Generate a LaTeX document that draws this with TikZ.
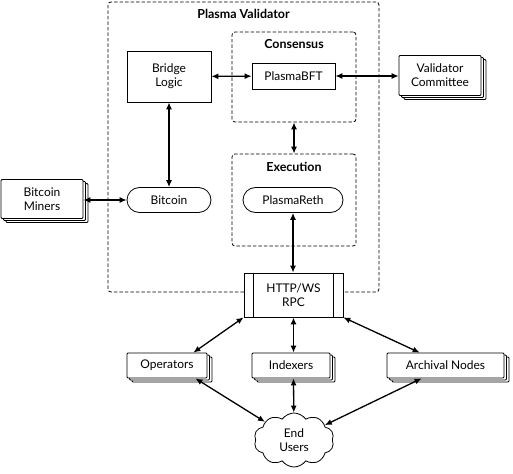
\documentclass[tikz,border=0pt]{standalone}
\usepackage{fontspec}
\setmainfont{Lato}
\usetikzlibrary{shapes.symbols,shadows,arrows.meta}

\begin{document}
\begin{tikzpicture}[>={Latex[length=7bp,width=6bp]}, x=1bp, y=-1bp, font=\fontsize{12}{14}\selectfont]
        \tikzset{
            group/.style={draw, dashed, dash pattern=on 3.5bp off 2bp, line width=0.8bp, rounded corners=3bp},
            grouptitle/.style={font=\fontsize{12.5}{14}\selectfont\bfseries},
            box/.style={draw, fill=white, line width=0.8bp, align=center, inner sep=0pt},
            stack/.style={box, rounded corners=1bp, double copy shadow={shadow xshift=2.5bp, shadow yshift=-2bp, draw, fill=white, line width=0.8bp}},
            pill/.style={box, rounded corners=12.5bp, minimum height=25bp},
            link/.style={<->, line width=1.3bp}
        }
        \useasboundingbox (0,0) rectangle (513,474);

        % Frames
        \node[group, minimum width=271bp, minimum height=290bp] (validator) at (243.5,147) {};
        \node[grouptitle] (validatortitle) at (243.5,14) {Plasma Validator};
        \node[group, minimum width=124bp, minimum height=90bp] (consensus) at (294,77) {};
        \node[grouptitle] (consensustitle) at (294,44) {Consensus};
        \node[group, minimum width=124bp, minimum height=92bp] (execution) at (294,200) {};
        \node[grouptitle] (executiontitle) at (294,167) {Execution};

        % Inside the validator
        \node[box, minimum width=84bp, minimum height=51bp] (bridge) at (169,76.5) {Bridge\\Logic};
        \node[box, minimum width=83bp, minimum height=26bp] (bft) at (293.5,76) {PlasmaBFT};
        \node[pill, minimum width=84bp] (bitcoin) at (169,200) {Bitcoin};
        \node[pill, minimum width=100bp] (reth) at (293,200) {PlasmaReth};

        % RPC
        \node[box, minimum width=99bp, minimum height=44bp] (rpc) at (293.5,295) {HTTP/WS\\RPC};
        \draw[line width=0.8bp] ([xshift=10bp]rpc.north west) -- ([xshift=10bp]rpc.south west);
        \draw[line width=0.8bp] ([xshift=-10bp]rpc.north east) -- ([xshift=-10bp]rpc.south east);

        % Outside actors
        \node[stack, minimum width=82bp, minimum height=40bp] (committee) at (440,75.5) {Validator\\Committee};
        \node[stack, minimum width=82bp, minimum height=39bp] (miners) at (42,199) {Bitcoin\\Miners};
        \node[stack, minimum width=80bp, minimum height=25bp] (operators) at (167,365.5) {Operators};
        \node[stack, minimum width=78bp, minimum height=25bp] (indexers) at (291,365.5) {Indexers};
        \node[stack, minimum width=117bp, minimum height=25bp] (archival) at (445.5,365.5) {Archival Nodes};
        \node[draw, cloud, cloud puffs=10, cloud puff arc=110, aspect=1.5, line width=0.8bp,
              minimum width=80bp, minimum height=54bp, align=center, inner sep=0pt] (users) at (294,440) {End\\Users};

        % Links
        \draw[link] (bridge) -- (bft);
        \draw[link] (bft) -- (committee.west |- bft);
        \draw[link] (bridge) -- (bitcoin);
        \draw[link] (miners.east |- bitcoin) -- (bitcoin);
        \draw[link] (consensus) -- (execution);
        \draw[link] (reth) -- (reth |- rpc.north);
        \draw[link] (rpc.south west) -- ([xshift=-14bp]operators.north east);
        \draw[link] (rpc.south) -- (indexers.north -| rpc.south);
        \draw[link] (rpc.south east) -- ([xshift=33bp]archival.north west);
        \draw[link] ([xshift=-12bp]operators.south east) -- (users);
        \draw[link] (indexers.south -| rpc.south) -- (users);
        \draw[link] ([xshift=35bp]archival.south west) -- (users);
    \end{tikzpicture}
\end{document}
